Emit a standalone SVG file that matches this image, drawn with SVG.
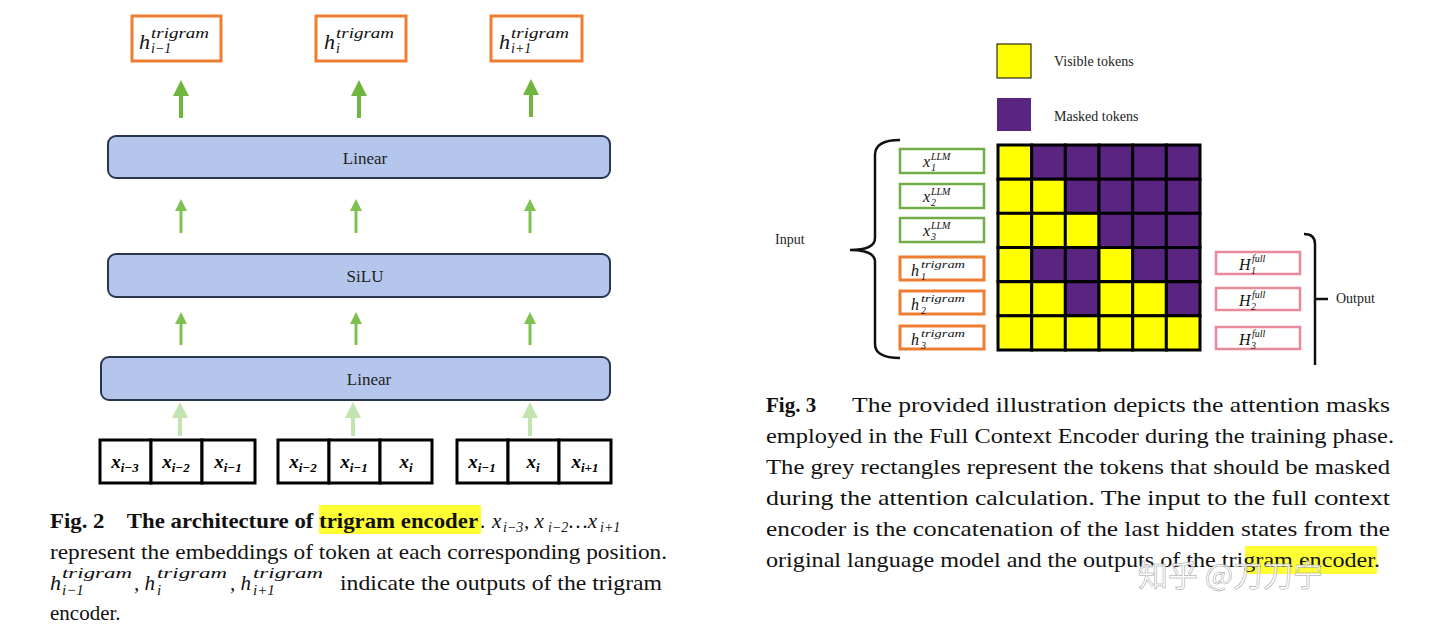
<svg xmlns="http://www.w3.org/2000/svg" width="1440" height="631" viewBox="0 0 1440 631">
<style>
.bar{fill:#b4c6ec;stroke:#2a3550;stroke-width:2}
.lbl{font-family:"Liberation Serif",serif;font-size:17px;fill:#222}
.m{font-family:"Liberation Serif",serif;font-style:italic;fill:#111}
.ob{fill:#fff;stroke:#ed7d31;stroke-width:3}
.gb{fill:#fff;stroke:#70ad47;stroke-width:2.5}
.pb{fill:#fff;stroke:#e88a9a;stroke-width:2.5}
.tk{fill:#fff;stroke:#000;stroke-width:3}
.cap{font-family:"Liberation Serif",serif;font-size:21px;fill:#111}
.Y{fill:#ffff00;stroke:#000;stroke-width:3}
.P{fill:#5a2581;stroke:#000;stroke-width:3}
</style>
<defs>
<marker id="ah" viewBox="0 0 10 10" refX="5" refY="5" markerWidth="4" markerHeight="4" orient="auto"><path d="M0,0L10,5L0,10z" fill="context-stroke"/></marker>
</defs>
<rect width="1440" height="631" fill="#fff"/>
<g id="outputs" class="m">
<rect class="ob" x="132" y="16" width="89" height="45"/><text x="139" y="49" font-size="22">h</text><text x="151" y="38" font-size="14" textLength="58" lengthAdjust="spacingAndGlyphs">trigram</text><text x="151" y="53" font-size="14">i−1</text>
<rect class="ob" x="316" y="16" width="90" height="45"/><text x="324" y="49" font-size="22">h</text><text x="336" y="38" font-size="14" textLength="58" lengthAdjust="spacingAndGlyphs">trigram</text><text x="336" y="53" font-size="14">i</text>
<rect class="ob" x="491" y="16" width="91" height="45"/><text x="499" y="49" font-size="22">h</text><text x="511" y="38" font-size="14" textLength="58" lengthAdjust="spacingAndGlyphs">trigram</text><text x="511" y="53" font-size="14">i+1</text>
</g>
<g id="connectors" fill="none">
<g stroke="#6fb63f" stroke-width="4"><path d="M181,118V88" marker-end="url(#ah)"/><path d="M359,118V88" marker-end="url(#ah)"/><path d="M531,117V87" marker-end="url(#ah)"/></g>
<g stroke="#7dc250" stroke-width="3"><path d="M181,233V205" marker-end="url(#ah)"/><path d="M356,233V205" marker-end="url(#ah)"/><path d="M530,233V205" marker-end="url(#ah)"/>
<path d="M181,345V318" marker-end="url(#ah)"/><path d="M356,345V318" marker-end="url(#ah)"/><path d="M530,345V318" marker-end="url(#ah)"/></g>
<g stroke="#c3e3b0" stroke-width="4"><path d="M180,436V410" marker-end="url(#ah)"/><path d="M353,436V410" marker-end="url(#ah)"/><path d="M530,436V410" marker-end="url(#ah)"/></g>
</g>
<g id="linear2"><rect class="bar" x="108" y="136" width="502" height="42" rx="8"/><text class="lbl" x="365" y="164" text-anchor="middle">Linear</text></g>
<g id="silu"><rect class="bar" x="108" y="254" width="502" height="43" rx="8"/><text class="lbl" x="365" y="282" text-anchor="middle">SiLU</text></g>
<g id="linear1"><rect class="bar" x="101" y="357" width="509" height="43" rx="8"/><text class="lbl" x="369" y="385" text-anchor="middle">Linear</text></g>
<g id="tokens" font-family="Liberation Serif,serif" font-style="italic" font-weight="bold" font-size="19" text-anchor="middle">
<rect class="tk" x="100" y="440" width="51" height="43"/><rect class="tk" x="151" y="440" width="51" height="43"/><rect class="tk" x="202" y="440" width="53" height="43"/>
<rect class="tk" x="278" y="440" width="51" height="43"/><rect class="tk" x="329" y="440" width="51" height="43"/><rect class="tk" x="380" y="440" width="52" height="43"/>
<rect class="tk" x="457" y="440" width="51" height="43"/><rect class="tk" x="508" y="440" width="51" height="43"/><rect class="tk" x="559" y="440" width="52" height="43"/>
<text x="125" y="468">x<tspan font-size="13" dy="4">i−3</tspan></text><text x="176" y="468">x<tspan font-size="13" dy="4">i−2</tspan></text><text x="228" y="468">x<tspan font-size="13" dy="4">i−1</tspan></text>
<text x="303" y="468">x<tspan font-size="13" dy="4">i−2</tspan></text><text x="354" y="468">x<tspan font-size="13" dy="4">i−1</tspan></text><text x="406" y="468">x<tspan font-size="13" dy="4">i</tspan></text>
<text x="482" y="468">x<tspan font-size="13" dy="4">i−1</tspan></text><text x="533" y="468">x<tspan font-size="13" dy="4">i</tspan></text><text x="585" y="468">x<tspan font-size="13" dy="4">i+1</tspan></text>
</g>
<g id="caption2">
<rect x="319" y="505" width="162" height="29" fill="#ffff33"/>
<text class="cap" x="50" y="528" font-weight="bold" textLength="428" lengthAdjust="spacingAndGlyphs" xml:space="preserve">Fig. 2    The architecture of trigram encoder</text>
<text class="cap" x="480" y="528">.</text>
<text class="m" x="492" y="528" font-size="21">x</text><text class="m" x="503" y="532" font-size="14">i−3</text><text class="m" x="524" y="528" font-size="21">, x</text><text class="m" x="548" y="532" font-size="14">i−2</text><text class="m" x="569" y="528" font-size="21">…x</text><text class="m" x="600" y="532" font-size="14">i+1</text>
<text class="cap" x="50" y="559" textLength="617" lengthAdjust="spacingAndGlyphs">represent the embeddings of token at each corresponding position.</text>
<text class="m" x="50" y="590" font-size="22">h</text><text class="m" x="62" y="578" font-size="15" textLength="70" lengthAdjust="spacingAndGlyphs">trigram</text><text class="m" x="62" y="595" font-size="15">i−1</text>
<text class="m" x="134" y="590" font-size="21">, h</text><text class="m" x="157" y="578" font-size="15" textLength="70" lengthAdjust="spacingAndGlyphs">trigram</text><text class="m" x="157" y="595" font-size="15">i</text>
<text class="m" x="230" y="590" font-size="21">, h</text><text class="m" x="253" y="578" font-size="15" textLength="70" lengthAdjust="spacingAndGlyphs">trigram</text><text class="m" x="253" y="595" font-size="15">i+1</text>
<text class="cap" x="340" y="590" textLength="322" lengthAdjust="spacingAndGlyphs">indicate the outputs of the trigram</text>
<text class="cap" x="50" y="620">encoder.</text>
</g>
<g id="legend" font-family="Liberation Serif,serif" font-size="14" fill="#222">
<rect x="997" y="44" width="34" height="34" fill="#ffff00" stroke="#000" stroke-width="1"/><text x="1054" y="66">Visible tokens</text>
<rect x="997" y="98" width="34" height="33" fill="#5a2581"/><text x="1054" y="121">Masked tokens</text>
</g>
<g id="mask">
<rect x="998" y="145" width="202" height="205" fill="#000"/>
<g transform="translate(998,145)">
<rect class="Y" x="0" y="0" width="33.7" height="34.2"/><rect class="P" x="33.7" y="0" width="33.7" height="34.2"/><rect class="P" x="67.3" y="0" width="33.7" height="34.2"/><rect class="P" x="101" y="0" width="33.7" height="34.2"/><rect class="P" x="134.7" y="0" width="33.7" height="34.2"/><rect class="P" x="168.3" y="0" width="33.7" height="34.2"/>
<rect class="Y" x="0" y="34.2" width="33.7" height="34.2"/><rect class="Y" x="33.7" y="34.2" width="33.7" height="34.2"/><rect class="P" x="67.3" y="34.2" width="33.7" height="34.2"/><rect class="P" x="101" y="34.2" width="33.7" height="34.2"/><rect class="P" x="134.7" y="34.2" width="33.7" height="34.2"/><rect class="P" x="168.3" y="34.2" width="33.7" height="34.2"/>
<rect class="Y" x="0" y="68.3" width="33.7" height="34.2"/><rect class="Y" x="33.7" y="68.3" width="33.7" height="34.2"/><rect class="Y" x="67.3" y="68.3" width="33.7" height="34.2"/><rect class="P" x="101" y="68.3" width="33.7" height="34.2"/><rect class="P" x="134.7" y="68.3" width="33.7" height="34.2"/><rect class="P" x="168.3" y="68.3" width="33.7" height="34.2"/>
<rect class="Y" x="0" y="102.5" width="33.7" height="34.2"/><rect class="P" x="33.7" y="102.5" width="33.7" height="34.2"/><rect class="P" x="67.3" y="102.5" width="33.7" height="34.2"/><rect class="Y" x="101" y="102.5" width="33.7" height="34.2"/><rect class="P" x="134.7" y="102.5" width="33.7" height="34.2"/><rect class="P" x="168.3" y="102.5" width="33.7" height="34.2"/>
<rect class="Y" x="0" y="136.7" width="33.7" height="34.2"/><rect class="Y" x="33.7" y="136.7" width="33.7" height="34.2"/><rect class="P" x="67.3" y="136.7" width="33.7" height="34.2"/><rect class="Y" x="101" y="136.7" width="33.7" height="34.2"/><rect class="Y" x="134.7" y="136.7" width="33.7" height="34.2"/><rect class="P" x="168.3" y="136.7" width="33.7" height="34.2"/>
<rect class="Y" x="0" y="170.8" width="33.7" height="34.2"/><rect class="Y" x="33.7" y="170.8" width="33.7" height="34.2"/><rect class="Y" x="67.3" y="170.8" width="33.7" height="34.2"/><rect class="Y" x="101" y="170.8" width="33.7" height="34.2"/><rect class="Y" x="134.7" y="170.8" width="33.7" height="34.2"/><rect class="Y" x="168.3" y="170.8" width="33.7" height="34.2"/>
</g>
</g>
<g id="inputs" class="m" font-size="16">
<rect class="gb" x="900" y="149" width="84" height="24"/><text x="923" y="167">x</text><text x="931" y="160" font-size="10">LLM</text><text x="931" y="171" font-size="10">1</text>
<rect class="gb" x="900" y="184" width="84" height="24"/><text x="923" y="202">x</text><text x="931" y="195" font-size="10">LLM</text><text x="931" y="206" font-size="10">2</text>
<rect class="gb" x="900" y="218" width="84" height="24"/><text x="923" y="236">x</text><text x="931" y="229" font-size="10">LLM</text><text x="931" y="240" font-size="10">3</text>
<rect class="ob" x="900" y="257" width="84" height="23" stroke-width="2.5"/><text x="911" y="276">h</text><text x="921" y="268" font-size="10" textLength="44" lengthAdjust="spacingAndGlyphs">trigram</text><text x="921" y="280" font-size="10">1</text>
<rect class="ob" x="900" y="291" width="84" height="23" stroke-width="2.5"/><text x="911" y="310">h</text><text x="921" y="302" font-size="10" textLength="44" lengthAdjust="spacingAndGlyphs">trigram</text><text x="921" y="314" font-size="10">2</text>
<rect class="ob" x="900" y="326" width="84" height="23" stroke-width="2.5"/><text x="911" y="345">h</text><text x="921" y="337" font-size="10" textLength="44" lengthAdjust="spacingAndGlyphs">trigram</text><text x="921" y="349" font-size="10">3</text>
</g>
<g id="outputsH" class="m" font-size="16">
<rect class="pb" x="1216" y="252" width="84" height="22"/><text x="1239" y="270">H</text><text x="1252" y="262" font-size="10">full</text><text x="1251" y="274" font-size="10">1</text>
<rect class="pb" x="1216" y="288" width="84" height="22"/><text x="1239" y="306">H</text><text x="1252" y="298" font-size="10">full</text><text x="1251" y="310" font-size="10">2</text>
<rect class="pb" x="1216" y="327" width="84" height="22"/><text x="1239" y="345">H</text><text x="1252" y="337" font-size="10">full</text><text x="1251" y="349" font-size="10">3</text>
</g>
<g id="braces" fill="none" stroke="#111" stroke-width="2.5">
<path d="M900,140Q875,140 875,155V238Q875,250 850,250Q875,250 875,262V344Q875,358 900,358"/>
<path d="M1304,234Q1315,234 1315,244V299H1328M1315,299V365"/>
</g>
<g font-family="Liberation Serif,serif" font-size="14" fill="#222"><text x="775" y="244">Input</text><text x="1336" y="303">Output</text></g>
<g id="caption3">
<rect x="1245" y="546" width="132" height="28" fill="#ffff33"/>
<text class="cap" x="766" y="412" font-weight="bold">Fig. 3</text>
<text class="cap" x="852" y="412" textLength="538" lengthAdjust="spacingAndGlyphs">The provided illustration depicts the attention masks</text>
<text class="cap" x="766" y="443" textLength="628" lengthAdjust="spacingAndGlyphs">employed in the Full Context Encoder during the training phase.</text>
<text class="cap" x="766" y="474" textLength="624" lengthAdjust="spacingAndGlyphs">The grey rectangles represent the tokens that should be masked</text>
<text class="cap" x="766" y="505" textLength="624" lengthAdjust="spacingAndGlyphs">during the attention calculation.  The input to the full context</text>
<text class="cap" x="766" y="536" textLength="624" lengthAdjust="spacingAndGlyphs">encoder is the concatenation of the last hidden states from the</text>
<text class="cap" x="766" y="567" textLength="614" lengthAdjust="spacingAndGlyphs">original language model and the outputs of the trigram encoder.</text>
<text x="1138" y="586" font-family="Noto Sans CJK SC,sans-serif" font-size="30" fill="#fff" fill-opacity="0.85" stroke="#999" stroke-width="0.5">知乎 @刀刀宁</text>
</g>
</svg>
